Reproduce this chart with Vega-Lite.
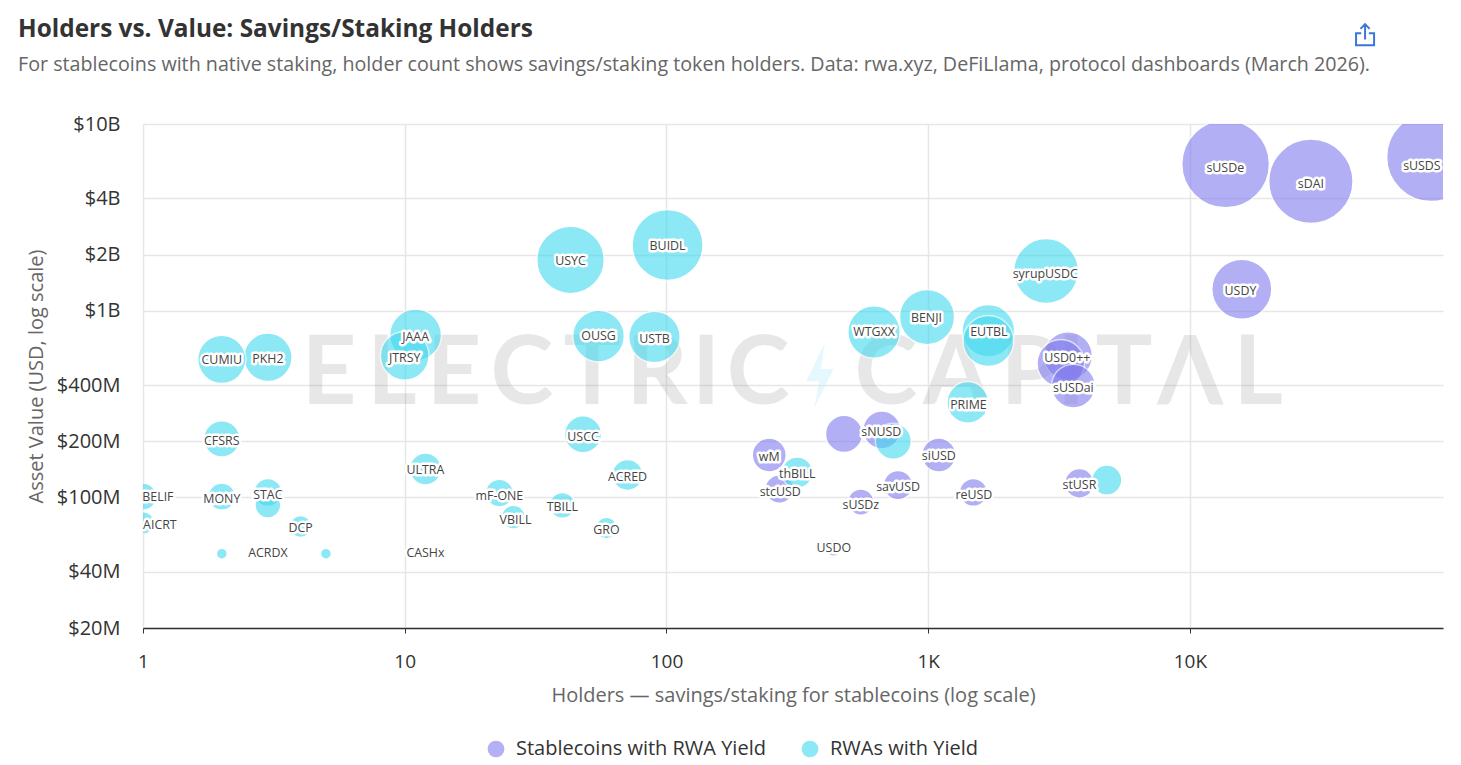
{
  "$schema": "https://vega.github.io/schema/vega-lite/v6.json",
  "title": {
    "text": "Holders vs. Value: Savings/Staking Holders",
    "subtitle": "For stablecoins with native staking, holder count shows savings/staking token holders. Data: rwa.xyz, DeFiLlama, protocol dashboards (March 2026).",
    "anchor": "start",
    "frame": "group",
    "dx": -125,
    "offset": -55,
    "font": "Open Sans",
    "fontSize": 24.4,
    "fontWeight": 700,
    "color": "#333333",
    "subtitleFont": "Open Sans",
    "subtitleFontSize": 19.7,
    "subtitleColor": "#666666",
    "subtitlePadding": 12
  },
  "width": 1300,
  "height": 504,
  "autosize": "none",
  "padding": {"left": 143, "top": 124, "right": 18, "bottom": 137},
  "datasets": {
    "points": [
      {"name": "sUSDS", "series": "Stablecoins with RWA Yield", "holders": 83500, "value": 6656000000},
      {"name": "sUSDe", "series": "Stablecoins with RWA Yield", "holders": 13693, "value": 6107000000},
      {"name": "sDAI", "series": "Stablecoins with RWA Yield", "holders": 28990, "value": 4939000000},
      {"name": "USDY", "series": "Stablecoins with RWA Yield", "holders": 15790, "value": 1304000000},
      {"name": "USD0++", "series": "Stablecoins with RWA Yield", "holders": 3425, "value": 572000000},
      {"name": "USD0", "series": "Stablecoins with RWA Yield", "holders": 3212, "value": 523000000},
      {"name": "sUSDai", "series": "Stablecoins with RWA Yield", "holders": 3588, "value": 395000000},
      {"name": "sNUSD", "series": "Stablecoins with RWA Yield", "holders": 665, "value": 230000000},
      {"name": "unlabelled-a", "series": "Stablecoins with RWA Yield", "holders": 477, "value": 219000000},
      {"name": "wM", "series": "Stablecoins with RWA Yield", "holders": 247, "value": 169000000},
      {"name": "siUSD", "series": "Stablecoins with RWA Yield", "holders": 1098, "value": 169000000},
      {"name": "stUSR", "series": "Stablecoins with RWA Yield", "holders": 3783, "value": 119000000},
      {"name": "savUSD", "series": "Stablecoins with RWA Yield", "holders": 767, "value": 116500000},
      {"name": "stcUSD", "series": "Stablecoins with RWA Yield", "holders": 270, "value": 111000000},
      {"name": "reUSD", "series": "Stablecoins with RWA Yield", "holders": 1488, "value": 106500000},
      {"name": "sUSDz", "series": "Stablecoins with RWA Yield", "holders": 553, "value": 94500000},
      {"name": "USDO", "series": "Stablecoins with RWA Yield", "holders": 436, "value": 53600000},
      {"name": "BUIDL", "series": "RWAs with Yield", "holders": 101, "value": 2248000000},
      {"name": "USYC", "series": "RWAs with Yield", "holders": 43, "value": 1869000000},
      {"name": "syrupUSDC", "series": "RWAs with Yield", "holders": 2822, "value": 1632000000},
      {"name": "BENJI", "series": "RWAs with Yield", "holders": 990, "value": 925000000},
      {"name": "EUTBL", "series": "RWAs with Yield", "holders": 1698, "value": 781000000},
      {"name": "WTGXX", "series": "RWAs with Yield", "holders": 621, "value": 769000000},
      {"name": "JAAA", "series": "RWAs with Yield", "holders": 11, "value": 741000000},
      {"name": "OUSG", "series": "RWAs with Yield", "holders": 55, "value": 732000000},
      {"name": "USTB", "series": "RWAs with Yield", "holders": 90, "value": 723000000},
      {"name": "EUTBL-2", "series": "RWAs with Yield", "holders": 1698, "value": 688000000},
      {"name": "JTRSY", "series": "RWAs with Yield", "holders": 10, "value": 574000000},
      {"name": "PKH2", "series": "RWAs with Yield", "holders": 3, "value": 563000000},
      {"name": "CUMIU", "series": "RWAs with Yield", "holders": 2, "value": 549000000},
      {"name": "PRIME", "series": "RWAs with Yield", "holders": 1417, "value": 323000000},
      {"name": "USCC", "series": "RWAs with Yield", "holders": 48, "value": 218000000},
      {"name": "CFSRS", "series": "RWAs with Yield", "holders": 2, "value": 206000000},
      {"name": "unlabelled-b", "series": "RWAs with Yield", "holders": 736, "value": 200000000},
      {"name": "ULTRA", "series": "RWAs with Yield", "holders": 12, "value": 142000000},
      {"name": "thBILL", "series": "RWAs with Yield", "holders": 316, "value": 136000000},
      {"name": "ACRED", "series": "RWAs with Yield", "holders": 71, "value": 132000000},
      {"name": "unlabelled-c", "series": "RWAs with Yield", "holders": 4814, "value": 124000000},
      {"name": "STAC", "series": "RWAs with Yield", "holders": 3, "value": 106500000},
      {"name": "mF-ONE", "series": "RWAs with Yield", "holders": 23, "value": 105600000},
      {"name": "BELIF", "series": "RWAs with Yield", "holders": 1, "value": 101000000},
      {"name": "MONY", "series": "RWAs with Yield", "holders": 2, "value": 101000000},
      {"name": "unlabelled-d", "series": "RWAs with Yield", "holders": 3, "value": 91000000},
      {"name": "TBILL", "series": "RWAs with Yield", "holders": 40, "value": 90700000},
      {"name": "VBILL", "series": "RWAs with Yield", "holders": 26, "value": 78500000},
      {"name": "AICRT", "series": "RWAs with Yield", "holders": 1, "value": 73000000},
      {"name": "DCP", "series": "RWAs with Yield", "holders": 4, "value": 70000000},
      {"name": "GRO", "series": "RWAs with Yield", "holders": 59, "value": 68600000},
      {"name": "unlabelled-e", "series": "RWAs with Yield", "holders": 2, "value": 50000000},
      {"name": "ACRDX", "series": "RWAs with Yield", "holders": 3, "value": 50000000},
      {"name": "unlabelled-f", "series": "RWAs with Yield", "holders": 5, "value": 50000000},
      {"name": "CASHx", "series": "RWAs with Yield", "holders": 12, "value": 50000000}
    ],
    "labels": [
      {"name": "USYC", "holders": 43, "value": 1850000000},
      {"name": "BUIDL", "holders": 101, "value": 2220000000},
      {"name": "OUSG", "holders": 55, "value": 732000000},
      {"name": "USTB", "holders": 90, "value": 705000000},
      {"name": "WTGXX", "holders": 621, "value": 769000000},
      {"name": "BENJI", "holders": 985, "value": 915000000},
      {"name": "syrupUSDC", "holders": 2800, "value": 1570000000},
      {"name": "EUTBL", "holders": 1705, "value": 769000000},
      {"name": "PRIME", "holders": 1425, "value": 313000000},
      {"name": "USD0++", "holders": 3400, "value": 560000000},
      {"name": "sUSDai", "holders": 3588, "value": 385000000},
      {"name": "sUSDe", "holders": 13650, "value": 5800000000},
      {"name": "sDAI", "holders": 29000, "value": 4750000000},
      {"name": "sUSDS", "holders": 77000, "value": 5950000000},
      {"name": "USDY", "holders": 15600, "value": 1270000000},
      {"name": "CUMIU", "holders": 2, "value": 543000000},
      {"name": "PKH2", "holders": 3, "value": 549000000},
      {"name": "JAAA", "holders": 11, "value": 720000000},
      {"name": "JTRSY", "holders": 10, "value": 560000000},
      {"name": "CFSRS", "holders": 2, "value": 201000000},
      {"name": "ULTRA", "holders": 12, "value": 141000000},
      {"name": "BELIF", "holders": 1.14, "value": 101000000},
      {"name": "AICRT", "holders": 1.16, "value": 71500000},
      {"name": "MONY", "holders": 2, "value": 98500000},
      {"name": "STAC", "holders": 3, "value": 103000000},
      {"name": "DCP", "holders": 4, "value": 68800000},
      {"name": "ACRDX", "holders": 3, "value": 50400000},
      {"name": "CASHx", "holders": 12, "value": 50400000},
      {"name": "mF-ONE", "holders": 23, "value": 101500000},
      {"name": "VBILL", "holders": 26.5, "value": 76000000},
      {"name": "TBILL", "holders": 40, "value": 89000000},
      {"name": "GRO", "holders": 59, "value": 67000000},
      {"name": "USCC", "holders": 48, "value": 210000000},
      {"name": "ACRED", "holders": 71, "value": 129000000},
      {"name": "wM", "holders": 247, "value": 165000000},
      {"name": "thBILL", "holders": 316, "value": 133500000},
      {"name": "stcUSD", "holders": 272, "value": 107000000},
      {"name": "sNUSD", "holders": 662, "value": 224000000},
      {"name": "siUSD", "holders": 1098, "value": 167000000},
      {"name": "savUSD", "holders": 767, "value": 113500000},
      {"name": "sUSDz", "holders": 553, "value": 91500000},
      {"name": "USDO", "holders": 436, "value": 53600000},
      {"name": "reUSD", "holders": 1495, "value": 103500000},
      {"name": "stUSR", "holders": 3783, "value": 116500000}
    ],
    "watermark": [
      {"letter": "E", "holders": 5.14, "value": 450000000},
      {"letter": "L", "holders": 8.94, "value": 450000000},
      {"letter": "E", "holders": 15.43, "value": 450000000},
      {"letter": "C", "holders": 28.07, "value": 450000000},
      {"letter": "T", "holders": 51.96, "value": 450000000},
      {"letter": "R", "holders": 92, "value": 450000000},
      {"letter": "I", "holders": 141.7, "value": 450000000},
      {"letter": "C", "holders": 223.9, "value": 450000000},
      {"letter": "C", "holders": 690, "value": 450000000},
      {"letter": "A", "holders": 1278, "value": 450000000},
      {"letter": "P", "holders": 2451, "value": 450000000},
      {"letter": "I", "holders": 3516, "value": 450000000},
      {"letter": "T", "holders": 5605, "value": 450000000},
      {"letter": "Λ", "holders": 10018, "value": 450000000},
      {"letter": "L", "holders": 18223, "value": 450000000}
    ],
    "bolt": [{"holders": 386, "value": 450000000}],
    "share": [{"holders": 46700, "value": 30000000000}]
  },
  "encoding": {
    "x": {
      "field": "holders",
      "type": "quantitative",
      "scale": {"type": "log", "domain": [1, 92700], "nice": false},
      "axis": {
        "title": "Holders — savings/staking for stablecoins (log scale)",
        "values": [1, 10, 100, 1000, 10000],
        "labelExpr": "datum.value >= 1000 ? datum.value / 1000 + 'K' : datum.value",
        "labelFont": "Open Sans",
        "labelFontSize": 19,
        "labelColor": "#333333",
        "labelPadding": 19,
        "labelFlush": false,
        "tickColor": "#333333",
        "tickSize": 5,
        "domainColor": "#333333",
        "domainWidth": 1.5,
        "gridColor": "#e6e6e6",
        "gridWidth": 1.5,
        "titleFont": "Open Sans",
        "titleFontSize": 20,
        "titleFontWeight": 400,
        "titleColor": "#666666",
        "titlePadding": 14
      }
    },
    "y": {
      "field": "value",
      "type": "quantitative",
      "scale": {"type": "log", "domain": [20000000, 10000000000], "nice": false},
      "axis": {
        "title": "Asset Value (USD, log scale)",
        "values": [20000000, 40000000, 100000000, 200000000, 400000000, 1000000000, 2000000000, 4000000000, 10000000000],
        "labelExpr": "datum.value >= 1e9 ? '$' + datum.value / 1e9 + 'B' : '$' + datum.value / 1e6 + 'M'",
        "labelFont": "Open Sans",
        "labelFontSize": 20,
        "labelColor": "#333333",
        "labelPadding": 23,
        "labelFlush": false,
        "ticks": false,
        "domain": false,
        "gridColor": "#e6e6e6",
        "gridWidth": 1.5,
        "titleFont": "Open Sans",
        "titleFontSize": 20,
        "titleFontWeight": 400,
        "titleColor": "#666666",
        "titlePadding": 10
      }
    }
  },
  "layer": [
    {
      "data": {"name": "watermark"},
      "mark": {"type": "text", "font": "Lato", "fontSize": 95, "fontWeight": 700, "baseline": "middle", "align": "center", "color": "#808080", "opacity": 0.18},
      "encoding": {"text": {"field": "letter"}}
    },
    {
      "data": {"name": "bolt"},
      "mark": {"type": "point", "filled": true, "shape": "M0.15 -1 L-0.42 0.18 L-0.02 0.18 L-0.18 1 L0.42 -0.2 L0.03 -0.2 Z", "size": 4225, "color": "#bdeefb", "opacity": 0.4}
    },
    {
      "data": {"name": "points"},
      "mark": {"type": "circle", "clip": true, "opacity": 0.6, "stroke": "#ffffff", "strokeWidth": 1.5},
      "encoding": {
        "color": {
          "field": "series",
          "type": "nominal",
          "scale": {"domain": ["Stablecoins with RWA Yield", "RWAs with Yield"], "range": ["#807bee", "#41d9ee"]},
          "legend": {
            "title": null,
            "orient": "none",
            "direction": "horizontal",
            "legendX": 343,
            "legendY": 615,
            "labelFont": "Open Sans",
            "labelFontSize": 20,
            "labelColor": "#333333",
            "labelLimit": 400,
            "symbolType": "circle",
            "symbolSize": 280,
            "symbolStrokeWidth": 0,
            "columnPadding": 34,
            "labelOffset": 10
          }
        },
        "size": {
          "field": "value",
          "type": "quantitative",
          "legend": null,
          "scale": {
            "type": "log",
            "domain": [50000000, 55000000, 70000000, 100000000, 200000000, 400000000, 750000000, 1300000000, 2250000000, 6650000000],
            "range": [121, 324, 484, 729, 1296, 1936, 2704, 3600, 5041, 7921]
          }
        }
      }
    },
    {
      "data": {"name": "labels"},
      "mark": {"type": "text", "clip": true, "font": "Open Sans", "fontSize": 12.4, "baseline": "middle", "align": "center", "stroke": "#ffffff", "strokeWidth": 5, "strokeJoin": "round"},
      "encoding": {"text": {"field": "name"}}
    },
    {
      "data": {"name": "labels"},
      "mark": {"type": "text", "clip": true, "font": "Open Sans", "fontSize": 12.4, "baseline": "middle", "align": "center", "color": "#444444"},
      "encoding": {"text": {"field": "name"}}
    },
    {
      "data": {"name": "share"},
      "mark": {"type": "point", "filled": false, "shape": "M-0.35 -0.15 L-0.82 -0.15 L-0.82 0.95 L0.82 0.95 L0.82 -0.15 L0.35 -0.15 M0 0.42 L0 -0.95 M-0.42 -0.55 L0 -0.97 L0.42 -0.55", "size": 484, "color": "#3b76d8", "strokeWidth": 2, "opacity": 1}
    }
  ],
  "config": {"view": {"stroke": null}}
}
